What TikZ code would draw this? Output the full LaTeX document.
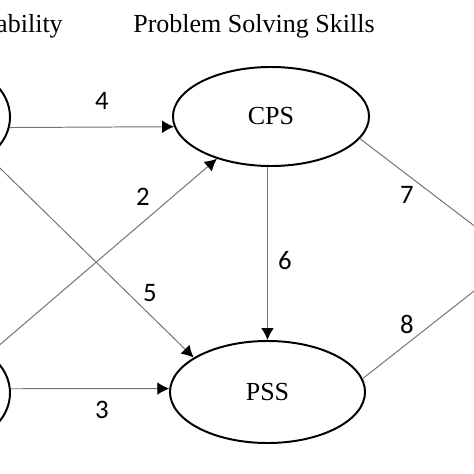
\documentclass[tikz,border=0pt]{standalone}
\usepackage{fontspec}
\setmainfont{Liberation Serif}
\newfontfamily\numfont{Carlito}
\usepackage{tikz}
\usetikzlibrary{shapes, arrows.meta, positioning}
\tikzset{
    var/.style={ellipse, draw, line width=1.4pt, minimum width=4.9cm, minimum height=2.5cm, font=\fontsize{18.5}{21}\selectfont},
    sidevar/.style={ellipse, draw, line width=1.4pt, minimum width=3cm, minimum height=2.5cm},
    heading/.style={font=\fontsize{18.5}{21}\selectfont, anchor=base, inner sep=0pt},
    weight/.style={font=\numfont\fontsize{19}{22}\selectfont},
    link/.style={draw=black!55, line width=0.7pt, -{Latex[length=8.5pt, width=9pt, black]}},
    plainlink/.style={draw=black!55, line width=0.7pt}
}

\begin{document}
\begin{tikzpicture}[x=0.025cm, y=-0.025cm]
        \useasboundingbox (0,0) rectangle (474,474);
        \clip (0,0) rectangle (474,474);

        % Headings
        \node[heading, anchor=base east] (H_left) at (63,32) {ability};
        \node[heading] (H_mid) at (254,32) {Problem Solving Skills};

        % Constructs
        \node (AB_top) at (-50,117) [sidevar] {};
        \node (AB_bot) at (-50,393) [sidevar] {};
        \node (CPS) at (271,116.5) [var, minimum height=2.475cm] {CPS};
        \node (PSS) at (267.5,392) [var, minimum width=4.875cm, minimum height=2.55cm] {PSS};
        \coordinate (R_7) at (502,247); % off the right edge
        \coordinate (R_8) at (502,269);

        % Paths
        \draw[link] (AB_top.-10) -- (CPS.186);
        \draw[link] (AB_bot.4) -- (PSS.178);
        \draw[link] (AB_top.-46) -- (PSS.155);
        \draw[link] (AB_bot.45) -- (CPS.-142);
        \draw[link] (PSS.north |- CPS.south) -- (PSS.north);
        \draw[plainlink] (CPS.-14) -- (R_7);
        \draw[plainlink] (PSS.8) -- (R_8);

        % Path numbers
        \node[weight] (W_4) at (102,101) {4};
        \node[weight] (W_2) at (143,197) {2};
        \node[weight] (W_5) at (150,293) {5};
        \node[weight] (W_3) at (102,410) {3};
        \node[weight] (W_6) at (285,261) {6};
        \node[weight] (W_7) at (407,195) {7};
        \node[weight] (W_8) at (407,324) {8};

    \end{tikzpicture}
\end{document}
